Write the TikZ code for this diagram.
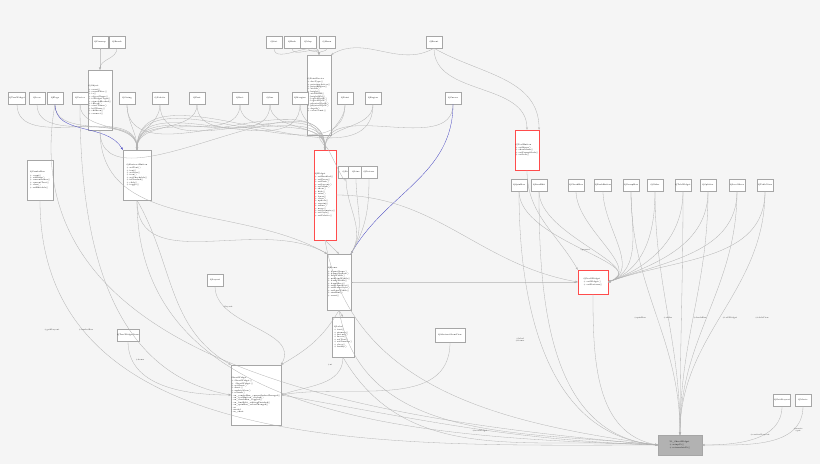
\documentclass[tikz,border=0pt]{standalone}
\usetikzlibrary{arrows.meta}
\begin{document}
\begin{tikzpicture}[x=1pt,y=-1pt,
 cls/.style={draw=gray!70,fill=white,minimum width=16pt,minimum height=12pt,inner sep=0.5pt,font=\fontsize{2}{2.4}\selectfont,align=left},
 red/.style={cls,draw=red!70},
 e/.style={draw=gray!60,line width=0.3pt,-{Stealth[open,length=2.5pt,width=2pt]}},
 b/.style={draw=blue!50!gray,line width=0.3pt,-{Stealth[open,length=2.5pt,width=2pt]}},
 lbl/.style={font=\fontsize{2}{2.4}\selectfont,text=gray!40!black,inner sep=0.3pt,align=center}]
\fill[gray!8] (0,0) rectangle (820,464);
\useasboundingbox (0,0) rectangle (820,464);
% main nodes
\node[cls,fill=gray!60,minimum width=44pt,minimum height=20pt] (T) at (680,445) {Ui\_SheetWidget\\[1pt]+ setupUi()\\+ retranslateUi()};
\node[red,minimum width=30pt,minimum height=24pt] (D) at (593,282) {QDockWidget\\[1pt]+ setWidget()\\+ setFeatures()};
\node[red,minimum width=22pt,minimum height=90pt] (W) at (325,195) {QWidget\\[1pt]+ setEnabled()\\+ setFocus()\\+ setFont()\\+ setLayout()\\+ setMask()\\+ show()\\+ hide()\\+ raise()\\+ lower()\\+ close()\\+ update()\\+ repaint()\\+ resize()\\+ move()\\+ setGeometry()\\+ setStyle()\\+ setPalette()};
\node[red,minimum width=22pt,minimum height=40pt] (R) at (527,150) {QToolButton\\[1pt]+ setMenu()\\+ showMenu()\\+ setPopupMode()\\+ setIcon()};
\node[cls,minimum width=22pt,minimum height=56pt] (F) at (339,282) {QFrame\\[1pt]+ frameShape()\\+ frameShadow()\\+ lineWidth()\\+ midLineWidth()\\+ frameWidth()\\+ frameRect()\\+ setFrameRect()\\+ setFrameStyle()\\+ setLineWidth()\\+ sizeHint()\\+ event()};
\node[cls,minimum width=22pt,minimum height=40pt] (L) at (343,337) {QLabel\\[1pt]+ text()\\+ pixmap()\\+ picture()\\+ movie()\\+ setText()\\+ setPixmap()\\+ clear()\\+ buddy()};
\node[cls,minimum width=24pt,minimum height=60pt] (O) at (100,100) {QObject\\[1pt]+ event()\\+ eventFilter()\\+ tr()\\+ objectName()\\+ isWidgetType()\\+ signalsBlocked()\\+ thread()\\+ startTimer()\\+ killTimer()\\+ children()\\+ connect()};
\node[cls,minimum width=22pt,minimum height=80pt] (P) at (319,95) {QPaintDevice\\[1pt]+ devType()\\+ paintingActive()\\+ paintEngine()\\+ width()\\+ height()\\+ widthMM()\\+ heightMM()\\+ logicalDpiX()\\+ logicalDpiY()\\+ physicalDpiX()\\+ physicalDpiY()\\+ depth()\\+ colorCount()};
\node[cls,minimum width=28pt,minimum height=50pt] (A) at (137,175) {QAbstractButton\\[1pt]+ setText()\\+ text()\\+ setIcon()\\+ icon()\\+ setCheckable()\\+ isChecked()\\+ click()\\+ toggle()};
\node[cls,minimum width=26pt,minimum height=40pt] (C) at (40,180) {QComboBox\\[1pt]+ count()\\+ addItem()\\+ currentIndex()\\+ currentText()\\+ clear()\\+ setEditable()};
\node[cls,minimum width=44pt,minimum height=60pt] (S) at (256,395) {SheetWidget\\[1pt]+ SheetWidget()\\+ ~SheetWidget()\\+ setSheet()\\+ sheet()\\+ updateView()\\+ refresh()\\- on\_comboBox\_currentIndexChanged()\\- on\_toolButton\_clicked()\\- on\_checkBox\_toggled()\\- on\_lineEdit\_editingFinished()\\- on\_spinBox\_valueChanged()\\- ui\\- model\\- m\_sheet};
\node[cls,minimum width=30pt,minimum height=14pt] (N) at (450,335) {QAbstractItemView};
% small boxes
\foreach \n/\x/\y/\t in {a1/17/98/QTreeWidget,a2/37/98/QIcon,a3/55/98/QFlags,a4/80/98/QVector,a5/127/98/QString,a6/160/98/QPalette,a7/197/98/QFont,a8/240/98/QRect,a9/270/98/QSize,a10/300/98/QMargins,a11/345/98/QPoint,a12/373/98/QRegion,a13/453/98/QCursor,
 b1/100/42/QPixmap,b2/117/42/QBrush,b3/274/42/QList,b4/292/42/QHash,b5/308/42/QMap,b6/327/42/QMenu,b7/434/42/QEvent,
 c1/346/172/QPen,c2/356/172/QLine,c3/369/172/QPicture,
 d1/519/185/QSpinBox,d2/539/185/QLineEdit,d3/576/185/QCheckBox,d4/603/185/QPushButton,d5/631/185/QGroupBox,d6/655/185/QSlider,d7/683/185/QTabWidget,d8/708/185/QSplitter,d9/737/185/QScrollArea,d10/765/185/QTableView,
 e1/215/280/QLayout,e2/128/335/QTreeWidgetItem,e3/782/400/QGridLayout,e4/803/400/QMovie}
 {\node[cls] (\n) at (\x,\y) {\t};}
% edges
\foreach \s in {a1,a2,a3,a4,a5,a6,a7,a8,a9,a10,a11,a12}{\draw[e] (\s.south) to[out=-90,in=90] (A.north);}
\foreach \s in {a5,a6,a7,a8,a9,a10,a11,a12,a13,c1}{\draw[e] (\s.south) to[out=-90,in=90] (W.north);}
\foreach \s in {b1,b2}{\draw[e] (\s.south) to[out=-90,in=90] (O.north);}
\foreach \s in {b3,b4,b5,b6}{\draw[e] (\s.south) to[out=-90,in=90] (P.north);}
\draw[e] (b7.south) to[out=-90,in=90] (R.north);
\draw[e] (b7.south) to[out=-150,in=30] (P.north east);
\draw[b] (a13.south) to[out=-90,in=60] (F.north east);
\draw[b] (a3.south) to[out=-90,in=120] (A.north west);
\foreach \s in {O,P}{\draw[e] (\s.south) to[out=-90,in=90] (W.north);}
\foreach \s in {O,A}{\draw[e] (\s.south) to[out=-90,in=150] (F.north west);}
\draw[e] (W.south) -- (F.north);
\draw[e] (F.south) -- (L.north);
\foreach \s in {c1,c2,c3}{\draw[e] (\s.south) to[out=-90,in=60] (F.north east);}
\draw[e] (C.south) to[out=-90,in=180] (T.west);
\draw[e] (a3.south) to[out=-100,in=175] (T.west);
\draw[e] (A.south) to[out=-90,in=178] (T.west);
\draw[e] (a4.south) to[out=-90,in=170] (S.west);
\draw[e] (e2.south) to[out=-90,in=180] (S.west);
\draw[e] (e1.south) to[out=-90,in=60] (S.north east);
\draw[e] (F.south) to[out=-120,in=30] (S.north east);
\draw[e] (L.south) to[out=-90,in=20] (S.east);
\draw[e] (N.south) to[out=-90,in=10] (S.east);
\draw[e] (A.south) to[out=-60,in=150] (S.north west);
\draw[e] (S.east) to[out=-10,in=178] (T.west);
\draw[e] (L.south) to[out=-60,in=176] (T.west);
\draw[e] (R.south) to[out=-90,in=120] (D.north west);
\foreach \s in {d1,d2,d3,d4,d5,d6,d7,d8,d9,d10}{\draw[e] (\s.south) to[out=-90,in=20] (D.east);}
\draw[e] (W.east) to[out=0,in=170] (D.west);
\draw[e] (F.east) to[out=0,in=180] (D.west);
\draw[e] (D.south) to[out=-90,in=170] (T.west);
\draw[e] (b7.south) to[out=-30,in=90] (R.north east);
\foreach \s in {d1,d2}{\draw[e] (\s.south) to[out=-90,in=175] (T.west);}
\foreach \s in {d5,d6,d7,d8,d9,d10}{\draw[e] (\s.south) to[out=-90,in=90] (T.north);}
\foreach \s in {e3,e4}{\draw[e] (\s.south) to[out=-90,in=0] (T.east);}
\draw[e] (F.south) to[out=-80,in=174] (T.west);
\draw[e] (W.south) to[out=-80,in=172] (T.west);
% a few labels
\node[lbl] at (52,330) {+gridLayout};
\node[lbl] at (86,330) {+comboBox};
\node[lbl] at (520,340) {+label\\+frame};
\node[lbl] at (640,318) {+spinBox};
\node[lbl] at (668,318) {+slider};
\node[lbl] at (700,318) {+checkBox};
\node[lbl] at (730,318) {+tabWidget};
\node[lbl] at (762,318) {+tableView};
\node[lbl] at (760,435) {+verticalLayout};
\node[lbl] at (798,430) {+movie\\+pic};
\node[lbl] at (585,250) {+parent};
\node[lbl] at (480,431) {+treeWidget};
\node[lbl] at (330,365) {+ui};
\node[lbl] at (228,307) {+layout};
\node[lbl] at (140,360) {+items};
\end{tikzpicture}
\end{document}
